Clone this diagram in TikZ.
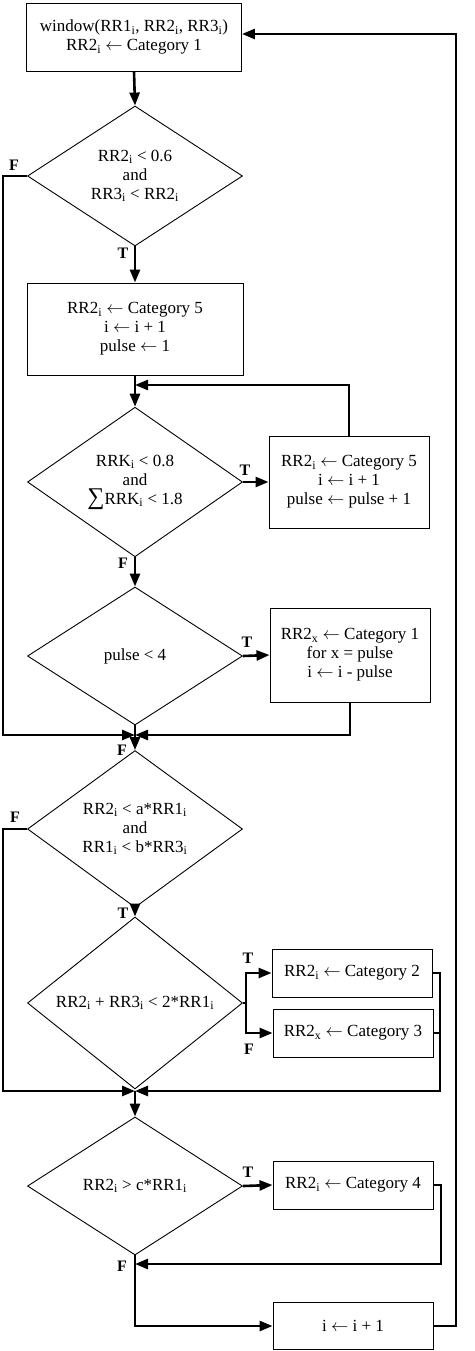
\documentclass[tikz,border=0pt]{standalone}
\usepackage{fontspec}
\setmainfont{Liberation Serif}
\usetikzlibrary{shapes.geometric,arrows.meta}
\newcommand{\RR}[2]{RR#1\textsubscript{#2}}
\newcommand{\assign}{\ensuremath{\leftarrow}}

\begin{document}
\begin{tikzpicture}[x=1pt,y=-1pt,
    font=\fontsize{17}{19}\selectfont,
    block/.style={draw, line width=0.9pt, align=center, inner sep=0pt, minimum width=160pt},
    decision/.style={diamond, draw, line width=0.9pt, align=center, inner sep=0pt,
        minimum width=215pt, minimum height=138pt},
    flow/.style={line width=2.6pt, -{Triangle[length=13pt,width=10pt]}},
    link/.style={line width=2.6pt},
    tf/.style={font=\fontsize{16}{16}\selectfont\bfseries, inner sep=0pt}]
    \useasboundingbox (0,0) rectangle (474,1351);

    % Main column
    \node[block, minimum width=215pt, minimum height=68pt] (window) at (134,37)
        {window(\RR{1}{i}, \RR{2}{i}, \RR{3}{i})\\\RR{2}{i} \assign{} Category 1};
    \node[decision] (testA) at (135,176)
        {\RR{2}{i} < 0.6\\and\\\RR{3}{i} < \RR{2}{i}};
    \node[block, minimum width=216pt, minimum height=92pt] (cat5) at (135,329)
        {\RR{2}{i} \assign{} Category 5\\i \assign{} i + 1\\pulse \assign{} 1};
    \node[decision] (testB) at (135,482)
        {\RR{K}{i} < 0.8\\and\\{\fontsize{24}{19}\selectfont ∑}\RR{K}{i} < 1.8};
    \node[decision] (testC) at (135,656)
        {pulse < 4};
    \node[decision] (testD) at (135,829)
        {\RR{2}{i} < a*\RR{1}{i}\\and\\\RR{1}{i} < b*\RR{3}{i}};
    \node[decision] (testE) at (135,1003)
        {\RR{2}{i} + \RR{3}{i} < 2*\RR{1}{i}};
    \node[decision] (testF) at (135,1186)
        {\RR{2}{i} > c*\RR{1}{i}};

    % Right column
    \node[block, minimum height=92pt] (loop5) at (349,482)
        {\RR{2}{i} \assign{} Category 5\\i \assign{} i + 1\\pulse \assign{} pulse + 1};
    \node[block, minimum height=94pt] (reset) at (350,655)
        {\RR{2}{x} \assign{} Category 1\\for x = pulse\\i \assign{} i - pulse};
    \node[block, minimum height=48pt] (cat2) at (352,973) {\RR{2}{i} \assign{} Category 2};
    \node[block, minimum height=48pt] (cat3) at (353,1033) {\RR{2}{x} \assign{} Category 3};
    \node[block, minimum height=48pt] (cat4) at (353,1185) {\RR{2}{i} \assign{} Category 4};
    \node[block, minimum height=47pt] (next) at (353,1326) {i \assign{} i + 1};

    % Bends and joins
    \coordinate (join1) at (135,385);
    \coordinate (merge1) at (135,735);
    \coordinate (left1) at (3,735);
    \coordinate (merge2) at (135,1091);
    \coordinate (left2) at (3,1091);
    \coordinate (fork) at (246,1003);
    \coordinate (right1) at (440,1091);
    \coordinate (merge3) at (135,1264);
    \coordinate (right2) at (441,1264);
    \coordinate (back) at (456,34);

    % Connectors
    \draw[flow] (window.south) -- (testA.north);
    \draw[flow] (testA.south) -- (cat5.north);
    \draw[flow] (cat5.south) -- (testB.north);
    \draw[flow] (testB.east) -- (loop5.west);
    \draw[flow] (loop5.north) |- (join1);
    \draw[flow] (testB.south) -- (testC.north);
    \draw[flow] (testC.east) -- (reset.west);
    \draw[flow] (reset.south) |- (merge1);
    \draw[flow] (testA.west) -| (left1) -- (merge1);
    \draw[flow] (testC.south) -- (testD.north);
    \draw[flow] (testD.west) -| (left2) -- (merge2);
    \draw[flow] (testD.south) -- (testE.north);
    \draw[link] (testE.east) -- (fork);
    \draw[flow] (fork) |- (cat2.west);
    \draw[flow] (fork) |- (cat3.west);
    \draw[flow] (cat2.east) -| (right1) -- (merge2);
    \draw[link] (cat3.east) -- (cat3.east -| right1);
    \draw[flow] (merge2) -- (testF.north);
    \draw[flow] (testF.east) -- (cat4.west);
    \draw[flow] (cat4.east) -| (right2) -- (merge3);
    \draw[flow] (testF.south) |- (next.west);
    \draw[flow] (next.east) -| (back) -- (back -| window.east);

    % T and F labels
    \node[tf] (fA) at (14,165) {F};
    \node[tf] (tA) at (123,253) {T};
    \node[tf] (tB) at (245,470) {T};
    \node[tf] (fB) at (123,563) {F};
    \node[tf] (tC) at (247,642) {T};
    \node[tf] (fC) at (122,750) {F};
    \node[tf] (fD) at (15,817) {F};
    \node[tf] (tD) at (123,913) {T};
    \node[tf] (tE) at (248,958) {T};
    \node[tf] (fE) at (249,1049) {F};
    \node[tf] (tF) at (248,1172) {T};
    \node[tf] (fF) at (122,1266) {F};
\end{tikzpicture}
\end{document}
